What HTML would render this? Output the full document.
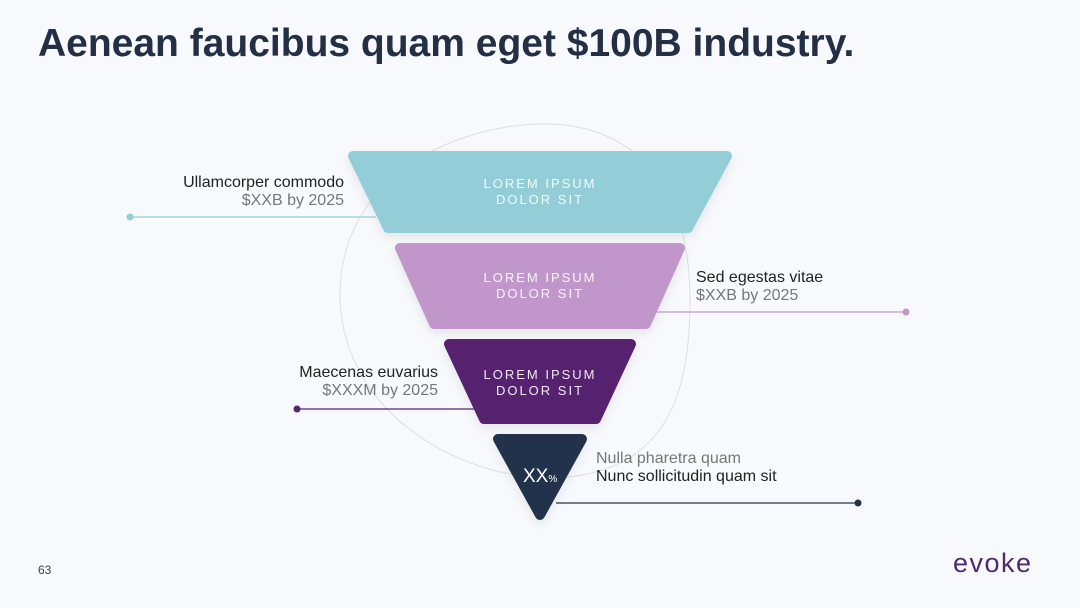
<!DOCTYPE html>
<html><head><meta charset="utf-8"><style>
body{margin:0;width:1080px;height:608px;background:#f8f9fc;font-family:"Liberation Sans",sans-serif;overflow:hidden;position:relative}
h1{position:absolute;left:38px;top:22px;margin:0;font-size:39px;font-weight:bold;color:#232f45;letter-spacing:0}
.t{position:absolute;font-size:16px;color:#222;line-height:18px}
.g{color:#777}
.r{text-align:right}
</style></head><body>
<h1>Aenean faucibus quam eget $100B industry.</h1>
<svg width="1080" height="608" style="position:absolute;left:0;top:0">
<defs><filter id="s" x="-20%" y="-20%" width="140%" height="150%"><feDropShadow dx="0" dy="4" stdDeviation="5" flood-color="#000" flood-opacity="0.08"/></filter></defs>
<path d="M540 124 C620 122 690 170 690 300 C690 420 650 470 560 478 C470 482 345 420 340 300 C337 180 450 126 540 124Z" fill="none" stroke="#dcdde2" stroke-width="1"/>
<g stroke-linejoin="round" filter="url(#s)">
<path d="M353 156 L727 156 L688 228 L388 228Z" fill="#92cdd8" stroke="#92cdd8" stroke-width="10"/>
<path d="M400 248 L680 248 L646 324 L434 324Z" fill="#c197cb" stroke="#c197cb" stroke-width="10"/>
<path d="M449 344 L631 344 L596 419 L484 419Z" fill="#572470" stroke="#572470" stroke-width="10"/>
<path d="M498 439 L582 439 L540 515Z" fill="#24334b" stroke="#24334b" stroke-width="10"/>
</g>
<line x1="130" y1="217" x2="376" y2="217" stroke="#92cdd8" stroke-width="1.2"/><circle cx="130" cy="217" r="3.5" fill="#92cdd8"/>
<line x1="652" y1="312" x2="906" y2="312" stroke="#c197cb" stroke-width="1.2"/><circle cx="906" cy="312" r="3.5" fill="#c197cb"/>
<line x1="297" y1="409" x2="478" y2="409" stroke="#572470" stroke-width="1.2"/><circle cx="297" cy="409" r="3.5" fill="#572470"/>
<line x1="556" y1="503" x2="858" y2="503" stroke="#24334b" stroke-width="1.2"/><circle cx="858" cy="503" r="3.5" fill="#24334b"/>
<g fill="#fff" font-family="Liberation Sans" font-size="13" text-anchor="middle" letter-spacing="2" opacity="0.9">
<text x="540" y="188">LOREM IPSUM</text><text x="540" y="204">DOLOR SIT</text>
<text x="540" y="282">LOREM IPSUM</text><text x="540" y="298">DOLOR SIT</text>
<text x="540" y="379">LOREM IPSUM</text><text x="540" y="395">DOLOR SIT</text>
</g>
<text x="523" y="482" fill="#fff" font-family="Liberation Sans" font-size="19">XX<tspan font-size="10">%</tspan></text>
<text x="953" y="572" fill="#4e2a6e" font-family="Liberation Sans" font-size="27" letter-spacing="1.5">evoke</text>
</svg>
<div class="t r" style="right:736px;top:174px">Ullamcorper commodo<br><span class="g">$XXB by 2025</span></div>
<div class="t" style="left:696px;top:269px">Sed egestas vitae<br><span class="g">$XXB by 2025</span></div>
<div class="t r" style="right:642px;top:364px">Maecenas euvarius<br><span class="g">$XXXM by 2025</span></div>
<div class="t" style="left:596px;top:450px"><span class="g">Nulla pharetra quam</span><br>Nunc sollicitudin quam sit</div>
<div class="t" style="left:38px;top:561px;font-size:12px;color:#444">63</div>
</body></html>
